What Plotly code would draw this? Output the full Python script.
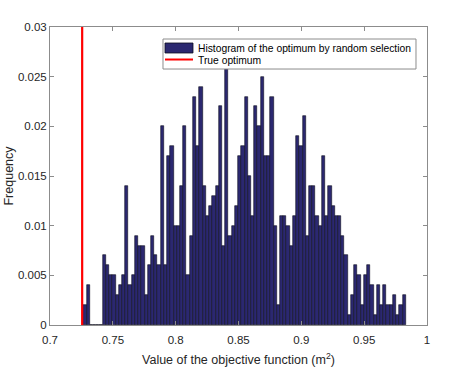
import numpy as np
import plotly.graph_objects as go

# Histogram data (100 bins), normalized frequency
bin_min = 0.7265
bin_max = 0.9831
frequency = [
    0.002, 0.004, 0.000, 0.000, 0.000, 0.000, 0.007, 0.006, 0.005, 0.005,
    0.003, 0.004, 0.005, 0.014, 0.004, 0.005, 0.009, 0.008, 0.008, 0.003,
    0.006, 0.009, 0.007, 0.006, 0.020, 0.006, 0.017, 0.018, 0.010, 0.010,
    0.014, 0.020, 0.005, 0.009, 0.023, 0.018, 0.024, 0.014, 0.011, 0.012,
    0.013, 0.014, 0.022, 0.008, 0.026, 0.009, 0.010, 0.012, 0.017, 0.018,
    0.023, 0.015, 0.011, 0.022, 0.020, 0.025, 0.017, 0.017, 0.023, 0.010,
    0.002, 0.011, 0.011, 0.010, 0.008, 0.011, 0.019, 0.018, 0.021, 0.009,
    0.014, 0.014, 0.011, 0.010, 0.017, 0.011, 0.014, 0.012, 0.011, 0.011,
    0.009, 0.007, 0.001, 0.003, 0.006, 0.005, 0.002, 0.005, 0.006, 0.004,
    0.001, 0.004, 0.002, 0.004, 0.002, 0.002, 0.003, 0.001, 0.002, 0.003,
]
true_optimum = 0.7256
x_ticks = [0.7, 0.75, 0.8, 0.85, 0.9, 0.95, 1.0]
x_tick_labels = ["0.7", "0.75", "0.8", "0.85", "0.9", "0.95", "1"]
y_ticks = [0, 0.005, 0.01, 0.015, 0.02, 0.025, 0.03]
y_tick_labels = ["0", "0.005", "0.01", "0.015", "0.02", "0.025", "0.03"]
legend_labels = ["Histogram of the optimum by random selection", "True optimum"]

n_bins = len(frequency)
bin_width = (bin_max - bin_min) / n_bins
centers = bin_min + (np.arange(n_bins) + 0.5) * bin_width

FONT = "Liberation Sans, Arial, Helvetica, sans-serif"
BAR_FILL = "#2b2870"
BAR_EDGE = "#0d0d1f"
RED = "#ff0000"
AXIS_COL = "#8c8c8c"
TXT = "#262626"

fig = go.Figure()
fig.add_trace(go.Bar(
    x=centers, y=frequency, width=bin_width,
    marker=dict(color=BAR_FILL, line=dict(color=BAR_EDGE, width=0.6)),
    name=legend_labels[0], showlegend=False,
))
fig.add_trace(go.Scatter(
    x=[true_optimum, true_optimum], y=[0, 0.03], mode="lines",
    line=dict(color=RED, width=2.2),
    name=legend_labels[1], showlegend=False,
))

axis_common = dict(
    showgrid=False, zeroline=False, showline=True, linecolor=AXIS_COL,
    linewidth=1, mirror="ticks", ticks="inside", ticklen=4,
    tickcolor=AXIS_COL, tickfont=dict(family=FONT, size=11.5, color=TXT),
    automargin=False,
)
fig.update_layout(
    width=474, height=367,
    margin=dict(l=50, r=47, t=27, b=42),
    paper_bgcolor="white", plot_bgcolor="white",
    bargap=0, showlegend=False,
    font=dict(family=FONT, color=TXT),
    xaxis=dict(range=[0.7, 1.0], tickvals=x_ticks, ticktext=x_tick_labels,
               ticklabelstandoff=4,
               title=dict(text="Value of the objective function (m<sup>2</sup>)",
                          font=dict(family=FONT, size=12.5, color=TXT), standoff=14),
               **axis_common),
    yaxis=dict(range=[0, 0.03], tickvals=y_ticks, ticktext=y_tick_labels,
               title=dict(text="Frequency", font=dict(family=FONT, size=12.5, color=TXT),
                          standoff=1),
               **axis_common),
)

# Legend box drawn in MATLAB style (paper coordinates of the plot area)
lg_x0, lg_x1, lg_y0, lg_y1 = 0.2997, 0.9708, 0.859, 0.9597
fig.add_shape(type="rect", xref="paper", yref="paper",
              x0=lg_x0, x1=lg_x1, y0=lg_y0, y1=lg_y1,
              line=dict(color=AXIS_COL, width=1), fillcolor="white", layer="above")
fig.add_shape(type="rect", xref="paper", yref="paper",
              x0=0.3050, x1=0.3793, y0=0.9128, y1=0.9463,
              line=dict(color=BAR_EDGE, width=0.8), fillcolor=BAR_FILL, layer="above")
fig.add_shape(type="line", xref="paper", yref="paper",
              x0=0.3050, x1=0.3793, y0=0.8909, y1=0.8909,
              line=dict(color=RED, width=2), layer="above")
fig.add_annotation(xref="paper", yref="paper", x=0.3873, y=0.9290,
                   text=legend_labels[0], showarrow=False, xanchor="left", yanchor="middle",
                   font=dict(family=FONT, size=10.3, color="#000000"))
fig.add_annotation(xref="paper", yref="paper", x=0.3873, y=0.8890,
                   text=legend_labels[1], showarrow=False, xanchor="left", yanchor="middle",
                   font=dict(family=FONT, size=10.3, color="#000000"))

fig.write_html("out.html", config={"displayModeBar": False},
               post_script="document.body.style.margin='0';document.body.style.padding='0';")
